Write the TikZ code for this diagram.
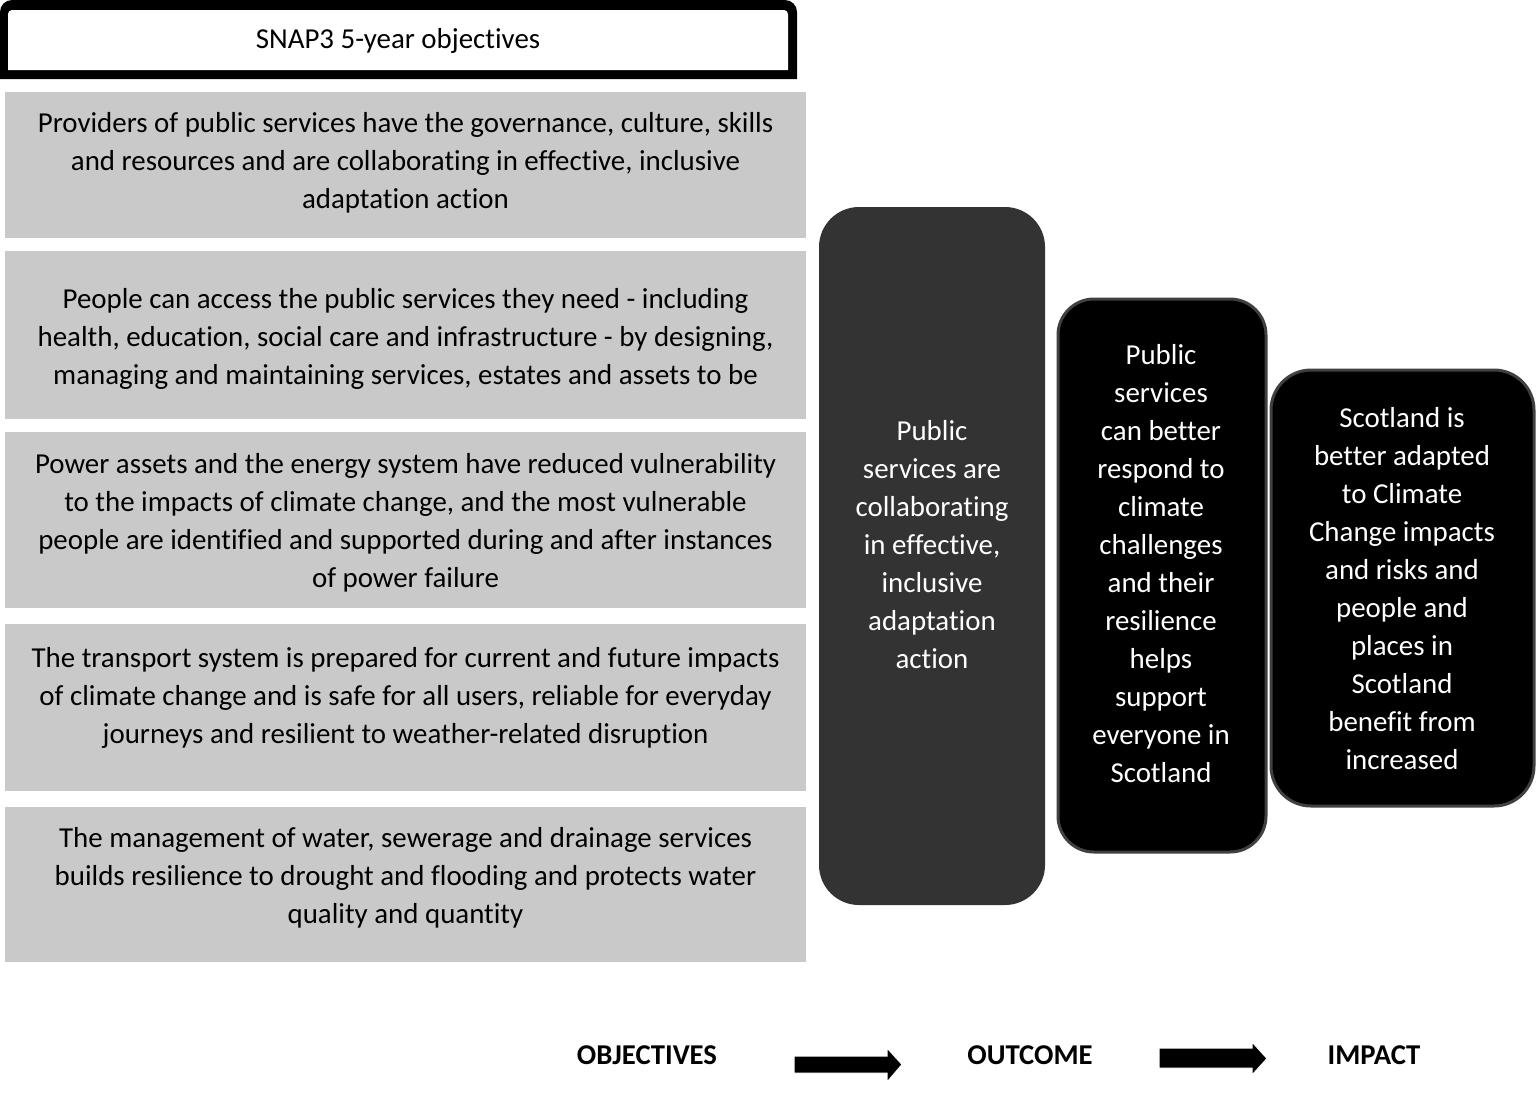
\documentclass[tikz,border=0pt]{standalone}
\usepackage{fontspec}
\setmainfont{Carlito}[Ligatures=NoCommon]
\definecolor{boxgray}{RGB}{201,201,201}
\definecolor{darkfill}{RGB}{51,51,51}
\definecolor{edgegray}{RGB}{64,64,64}
\begin{document}
\begin{tikzpicture}[x=1pt,y=-1pt,
  txt/.style={align=center, inner sep=0pt, font=\fontsize{28.9}{38}\selectfont},
  wtxt/.style={txt, text=white},
  lbl/.style={inner sep=0pt, font=\fontsize{28.7}{34}\selectfont\bfseries},
  graybox/.style={fill=boxgray, draw=none, inner sep=0pt, outer sep=0pt, anchor=north west, minimum width=801pt},
  obox/.style={rounded corners=40pt, inner sep=0pt, outer sep=0pt, anchor=north west},
  blockarrow/.style={fill=black, draw=white, line width=1pt}
]
\useasboundingbox (0,0) rectangle (1536,1106);

% title
\fill[black] (0,79) [rounded corners=12pt] -- (0,0) -- (797,0) [sharp corners] -- (797,79) -- cycle;
\fill[white] (8,70) [rounded corners=4pt] -- (8,10) -- (788,10) [sharp corners] -- (788,70) -- cycle;
\node[txt] (title) at (398,41) {SNAP3 5-year objectives};

% objective boxes
\node[graybox, minimum height=146pt] (g1) at (5,92) {};
\node[graybox, minimum height=168pt] (g2) at (5,251) {};
\node[graybox, minimum height=176pt] (g3) at (5,432) {};
\node[graybox, minimum height=167pt] (g4) at (5,624) {};
\node[graybox, minimum height=155pt] (g5) at (5,807) {};

\node[txt] (t1) at (405.5,162.5) {Providers of public services have the governance, culture, skills\\and resources and are collaborating in effective, inclusive\\adaptation action};
\node[txt] (t2) at (405.5,338.5) {People can access the public services they need - including\\health, education, social care and infrastructure - by designing,\\managing and maintaining services, estates and assets to be};
\node[txt] (t3) at (405.5,522.5) {Power assets and the energy system have reduced vulnerability\\to the impacts of climate change, and the most vulnerable\\people are identified and supported during and after instances\\of power failure};
\node[txt] (t4) at (405.5,697.5) {The transport system is prepared for current and future impacts\\of climate change and is safe for all users, reliable for everyday\\journeys and resilient to weather-related disruption};
\node[txt] (t5) at (405.5,877.5) {The management of water, sewerage and drainage services\\builds resilience to drought and flooding and protects water\\quality and quantity};

% outcome / impact boxes
\node[obox, fill=darkfill, minimum width=226pt, minimum height=698pt] (oa) at (819,207) {};
\node[obox, fill=black, draw=edgegray, line width=3pt, rounded corners=36pt, minimum width=208pt, minimum height=553pt] (ob) at (1058,299) {};
\node[obox, fill=black, draw=edgegray, line width=3pt, minimum width=263pt, minimum height=436pt] (oc) at (1271,370) {};

\node[wtxt] (ta) at (932,544.5) {Public\\services are\\collaborating\\in effective,\\inclusive\\adaptation\\action};
\node[wtxt] (tb) at (1161,564) {Public\\services\\can better\\respond to\\climate\\challenges\\and their\\resilience\\helps\\support\\everyone in\\Scotland};
\node[wtxt] (tc) at (1402,589) {Scotland is\\better adapted\\to Climate\\Change impacts\\and risks and\\people and\\places in\\Scotland\\benefit from\\increased};

% bottom labels
\node[lbl] (lo) at (647,1055) {OBJECTIVES};
\node[lbl] (lu) at (1030,1055) {OUTCOME};
\node[lbl] (li) at (1374,1055) {IMPACT};

% block arrows
\fill[blockarrow] (794,1056) -- (887,1056) -- (887,1048) -- (902,1064.5) -- (887,1082) -- (887,1073) -- (794,1073) -- cycle;
\fill[blockarrow] (1159,1048) -- (1252,1048) -- (1252,1042) -- (1267,1058.5) -- (1252,1075) -- (1252,1068) -- (1159,1068) -- cycle;
\end{tikzpicture}
\end{document}
